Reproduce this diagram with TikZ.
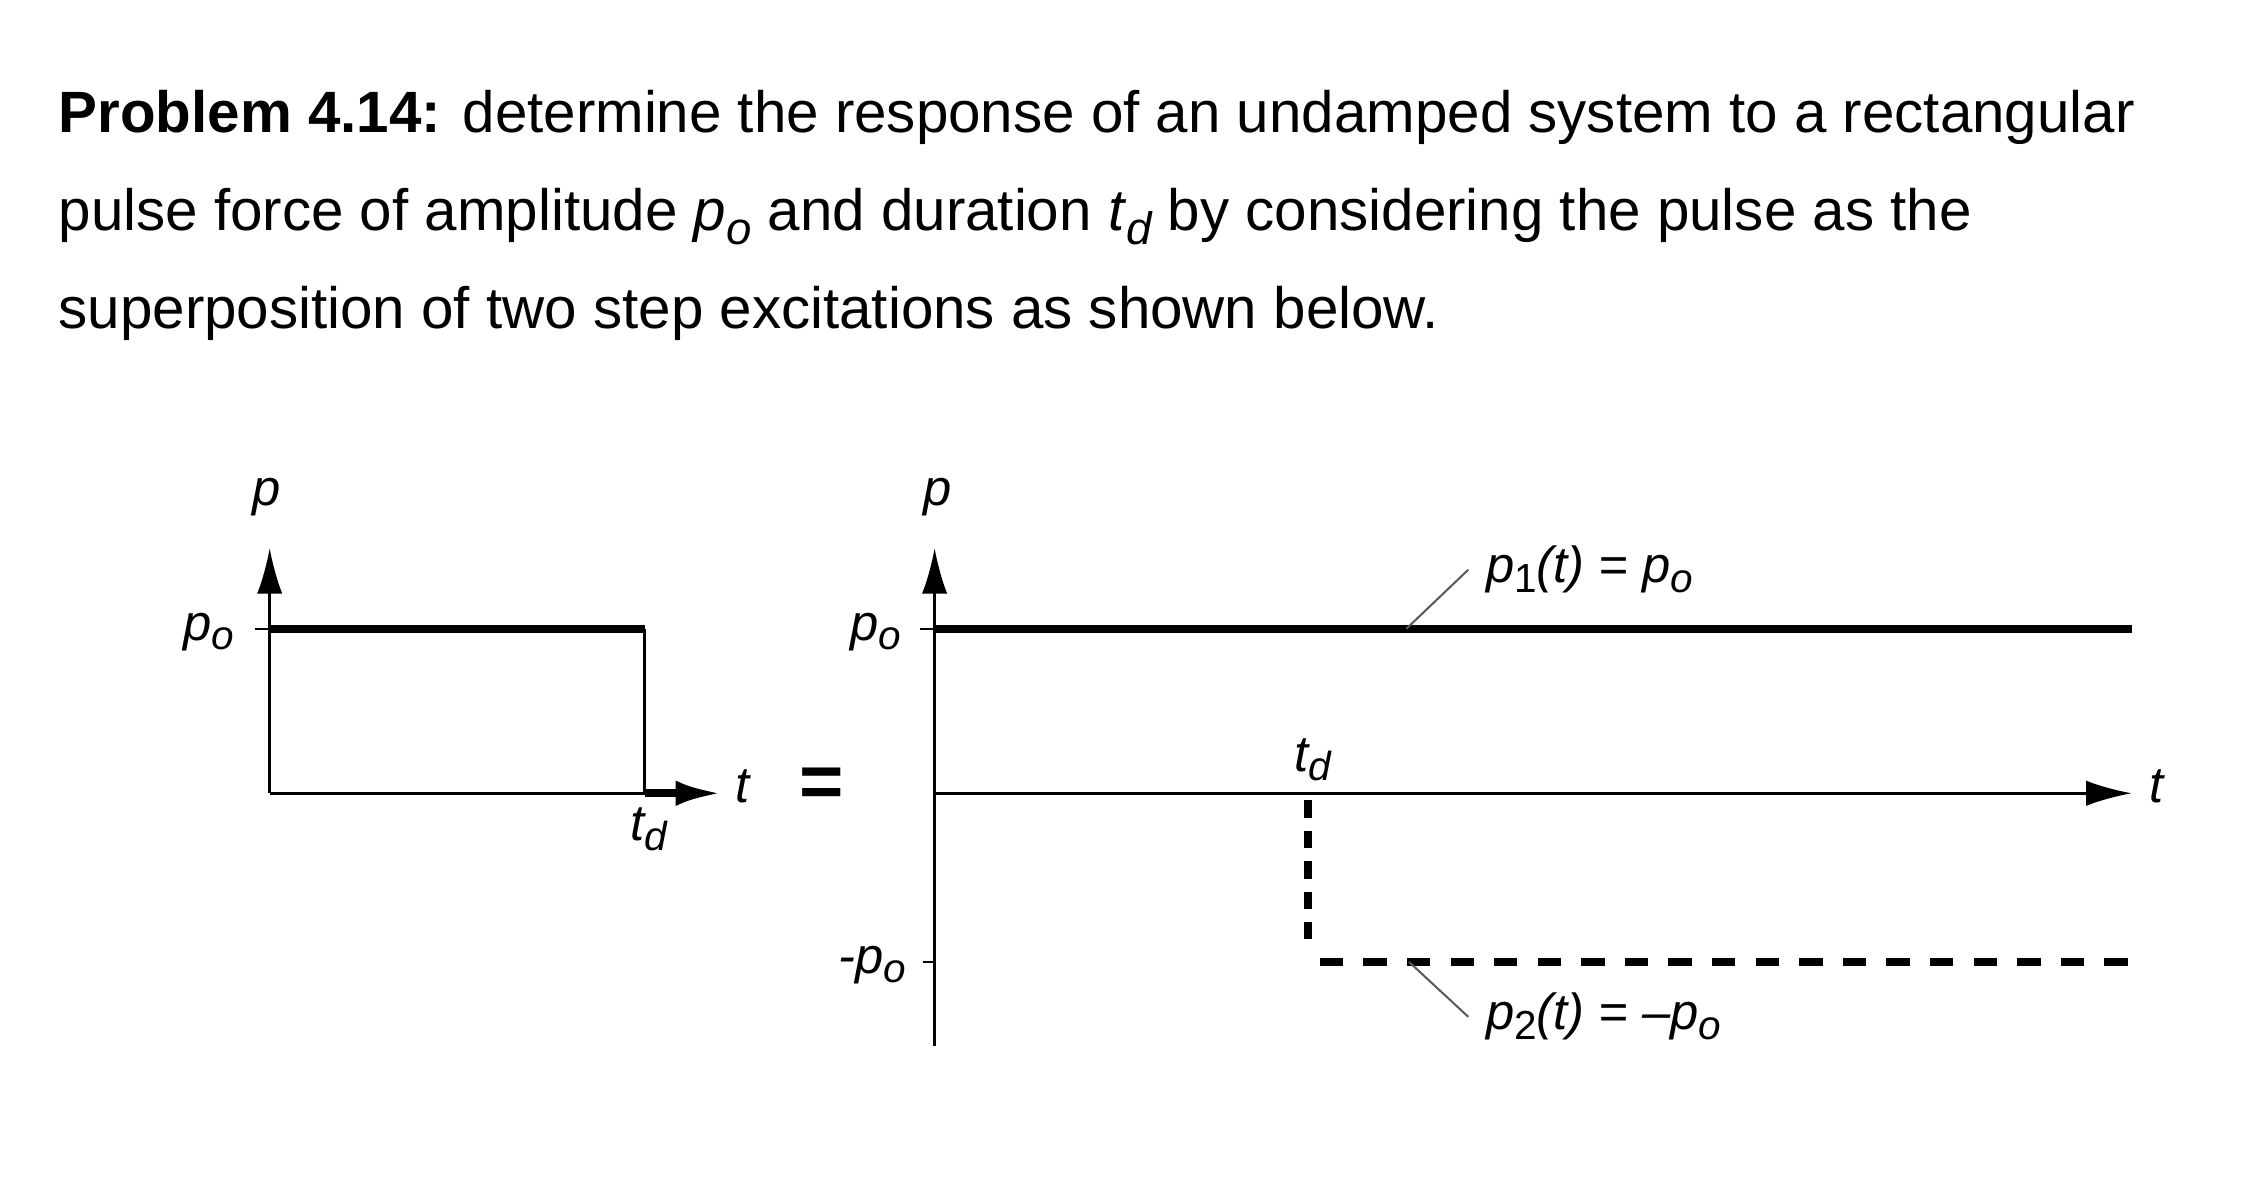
\documentclass[tikz,border=0pt]{standalone}
\usepackage{fontspec}
\setmainfont{Liberation Sans}
\usetikzlibrary{arrows.meta}
\newcommand{\sbs}[1]{\raisebox{-0.35ex}{\fontsize{8}{8}\selectfont #1}}
\newcommand{\hsbs}[1]{\raisebox{-0.45ex}{\fontsize{9}{9}\selectfont\itshape #1}}
\begin{document}
\begin{tikzpicture}[x=0.1mm,y=-0.1mm,
  ax/.style={line width=0.5pt},
  thk/.style={line width=1.5pt},
  tip/.style={-{Latex[length=9pt,width=5pt]}},
  lab/.style={font=\fontsize{10}{12}\selectfont\itshape},
  head/.style={font=\fontsize{11.5}{14}\selectfont,anchor=base west,inner sep=0}]
\useasboundingbox (0,0) rectangle (1560,825);
\node[head] (h1) at (40,92) {\textbf{Problem 4.14:} determine the response of an undamped system to a rectangular};
\node[head] (h2) at (40,160) {pulse force of amplitude \textit{p}\hsbs{o} and duration \textit{t}\hsbs{d} by considering the pulse as the};
\node[head] (h3) at (40,228) {superposition of two step excitations as shown below.};
% left plot
\coordinate (lo) at (187,550);
\coordinate (ltop) at (187,380);
\coordinate (lpo) at (187,436);
\coordinate (ltd) at (447,436);
\coordinate (ltdb) at (447,550);
\coordinate (lend) at (500,550);
\draw[ax,tip] (lo) -- (ltop);
\draw[ax] (lo) -- (ltdb);
\draw[thk,tip] (ltdb) -- (lend);
\draw[thk] (lpo) -- (ltd);
\draw[ax] (ltd) -- (ltdb);
\draw[ax] (lpo) -- ++(-10,0);
\node[lab] (lp) at (185,345) {p};
\node[lab] (lpol) at (145,438) {p\sbs{o}};
\node[lab] (lt) at (515,545) {t};
\node[lab] (ltdl) at (450,575) {t\sbs{d}};
\node[font=\fontsize{15}{15}\selectfont\bfseries] (eq) at (570,546) {=};
% right plot
\coordinate (ro) at (648,550);
\coordinate (rbot) at (648,725);
\coordinate (rtop) at (648,380);
\coordinate (rpo) at (648,436);
\coordinate (rpoe) at (1478,436);
\coordinate (rend) at (1478,550);
\coordinate (rtd) at (907,555);
\coordinate (rtdb) at (907,660);
\coordinate (rm) at (915,667);
\coordinate (rme) at (1478,667);
\coordinate (rmpo) at (648,667);
\draw[ax,tip] (rbot) -- (rtop);
\draw[ax,tip] (ro) -- (rend);
\draw[thk] (rpo) -- (rpoe);
\draw[ax] (rpo) -- ++(-10,0);
\draw[ax] (rmpo) -- ++(-8,0);
\draw[thk,dash pattern=on 3.4pt off 2.6pt] (rtd) -- (rtdb);
\draw[thk,dash pattern=on 4.6pt off 4pt] (rm) -- (rme);
\node[lab] (rp) at (650,345) {p};
\node[lab] (rpol) at (607,438) {p\sbs{o}};
\node[lab] (rmpol) at (605,669) {-p\sbs{o}};
\node[lab] (rt) at (1495,545) {t};
\node[lab] (rtdl) at (910,527) {t\sbs{d}};
\node[lab,anchor=west] (p1) at (1018,395) {p\sbs{\upshape 1}(t) = p\sbs{o}};
\node[lab,anchor=west] (p2) at (1018,705) {p\sbs{\upshape 2}(t) = \textendash p\sbs{o}};
\coordinate (a1) at (975,436);
\coordinate (a2) at (977,667);
\draw[gray!70!black,line width=0.4pt] (a1) -- (p1.west);
\draw[gray!70!black,line width=0.4pt] (a2) -- (p2.west);
\end{tikzpicture}
\end{document}
